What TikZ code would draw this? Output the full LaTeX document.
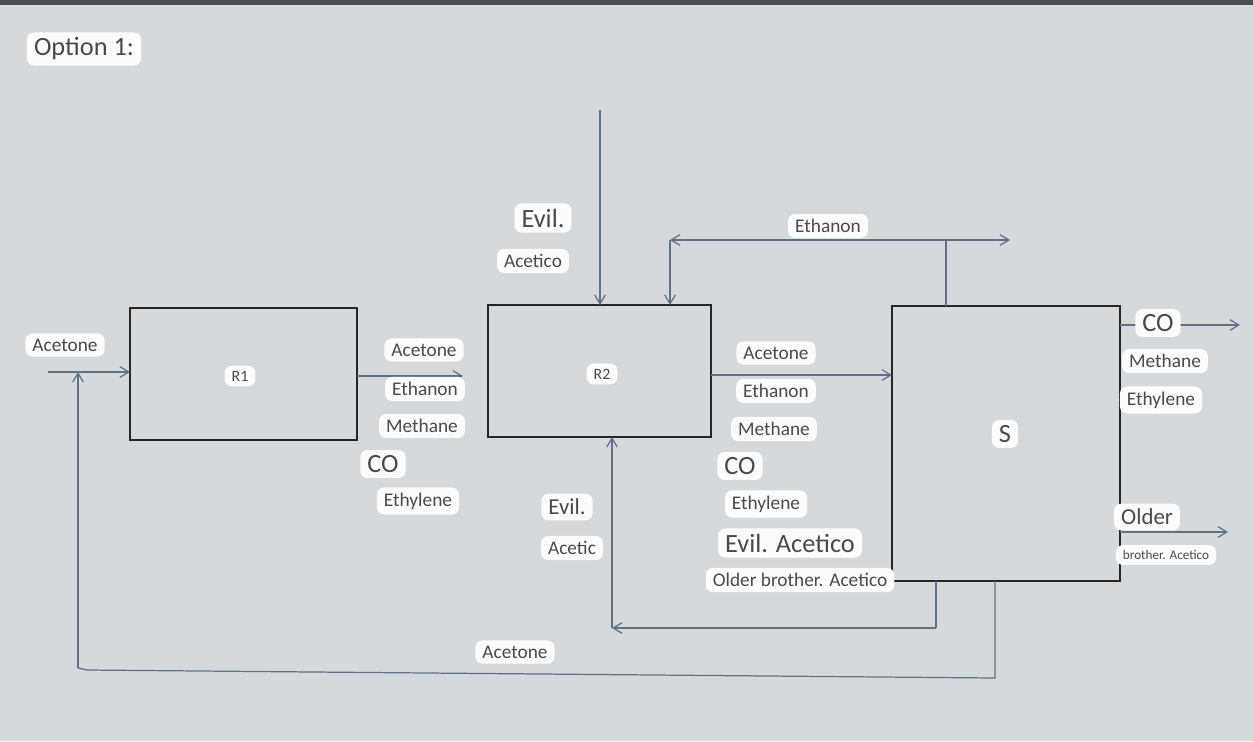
\documentclass[tikz,border=0pt]{standalone}
\usepackage{fontspec}
\setmainfont{Carlito}
\usetikzlibrary{arrows.meta}
\definecolor{bg}{HTML}{D6D9DB}
\definecolor{ln}{HTML}{5F7186}
\definecolor{tx}{HTML}{4A4A4A}
\tikzset{
 lbl/.style={fill=white!92!bg,rounded corners=4pt,text=tx,font=\fontsize{11}{13}\selectfont,inner xsep=4pt,inner ysep=3pt},
 big/.style={lbl,font=\fontsize{15}{17}\selectfont},
 sml/.style={lbl,font=\fontsize{7.5}{9}\selectfont},
 unit/.style={draw=black!85,line width=1.2pt},
 flow/.style={draw=ln,line width=0.7pt,-{Straight Barb[length=5pt,width=6pt]}},
 pl/.style={draw=ln,line width=0.7pt}
}
\begin{document}
\begin{tikzpicture}[x=0.02cm,y=-0.02cm]
\fill[bg] (0,0) rectangle (1253,741);
\fill[black!70] (0,0) rectangle (1253,5);
\node[big] (opt) at (84,49) {Option 1:};
% units
\draw[unit] (130,308) rectangle (357,440);
\draw[unit] (488,305) rectangle (711,437);
\draw[unit] (892,306) rectangle (1120,581);
\node[lbl,font=\fontsize{9}{10}\selectfont] (r1) at (240,376) {R1};
\node[lbl,font=\fontsize{9}{10}\selectfont] (r2) at (602,374) {R2};
\node[big] (s) at (1005,434) {S};
% coordinates
\coordinate (fin) at (48,372); \coordinate (r1in) at (130,372);
\coordinate (r1out) at (357,376); \coordinate (r1end) at (463,376);
\coordinate (top) at (600,110); \coordinate (r2top) at (600,305);
\coordinate (sTop) at (946,306); \coordinate (eJ) at (946,240);
\coordinate (eL) at (670,240); \coordinate (eR) at (1010,240); \coordinate (r2top2) at (670,305);
\coordinate (r2out) at (711,375); \coordinate (sin) at (892,375);
\coordinate (so1) at (1120,325); \coordinate (so1e) at (1240,325);
\coordinate (so2) at (1120,532); \coordinate (so2e) at (1228,532);
\coordinate (sb1) at (936,581); \coordinate (sb1c) at (936,628); \coordinate (rc1) at (612,628); \coordinate (r2bot) at (612,437);
\coordinate (sb2) at (995,581); \coordinate (sb2c) at (995,678); \coordinate (rc2) at (78,668); \coordinate (fjoin) at (78,372);
% flows
\draw[flow] (fin) -- (r1in);
\draw[flow] (r1out) -- (r1end);
\draw[flow] (top) -- (r2top);
\draw[pl] (sTop) -- (eJ);
\draw[flow] (eJ) -- (eL);
\draw[flow] (eJ) -- (eR);
\draw[flow] (eL) -- (r2top2);
\draw[flow] (r2out) -- (sin);
\draw[flow] (so1) -- (so1e);
\draw[flow] (so2) -- (so2e);
\draw[pl] (sb1) -- (sb1c);
\draw[flow] (sb1c) -- (rc1);
\draw[flow] (rc1) -- (r2bot);
\draw[pl] (sb2) -- (sb2c) -- (87,670) -- (rc2);
\draw[flow] (rc2) -- (fjoin);
% labels
\node[lbl] (a0) at (65,345) {Acetone};
\node[lbl] (a1) at (424,350) {Acetone};
\node[lbl] (a2) at (425,389) {Ethanon};
\node[lbl] (a3) at (422,426) {Methane};
\node[big] (a4) at (383,464) {CO};
\node[lbl] (a5) at (418,501) {Ethylene};
\node[big] (t1) at (543,218) {Evil.};
\node[lbl] (t2) at (533,261) {Acetico};
\node[lbl] (e1) at (828,226) {Ethanon};
\node[lbl] (b1) at (776,353) {Acetone};
\node[lbl] (b2) at (776,391) {Ethanon};
\node[lbl] (b3) at (774,429) {Methane};
\node[big] (b4) at (740,466) {CO};
\node[lbl] (b5) at (766,504) {Ethylene};
\node[big] (b6) at (790,543) {Evil. Acetico};
\node[lbl] (b7) at (800,580) {Older brother. Acetico};
\node[big] (c1) at (1158,323) {CO};
\node[lbl] (c2) at (1165,361) {Methane};
\node[lbl] (c3) at (1161,400) {Ethylene};
\node[big,font=\fontsize{13}{15}\selectfont] (c4) at (1147,517) {Older};
\node[sml] (c5) at (1166,555) {brother. Acetico};
\node[big,font=\fontsize{13}{15}\selectfont] (d1) at (567,507) {Evil.};
\node[lbl] (d2) at (572,548) {Acetic};
\node[lbl] (f1) at (515,652) {Acetone};
\end{tikzpicture}
\end{document}
